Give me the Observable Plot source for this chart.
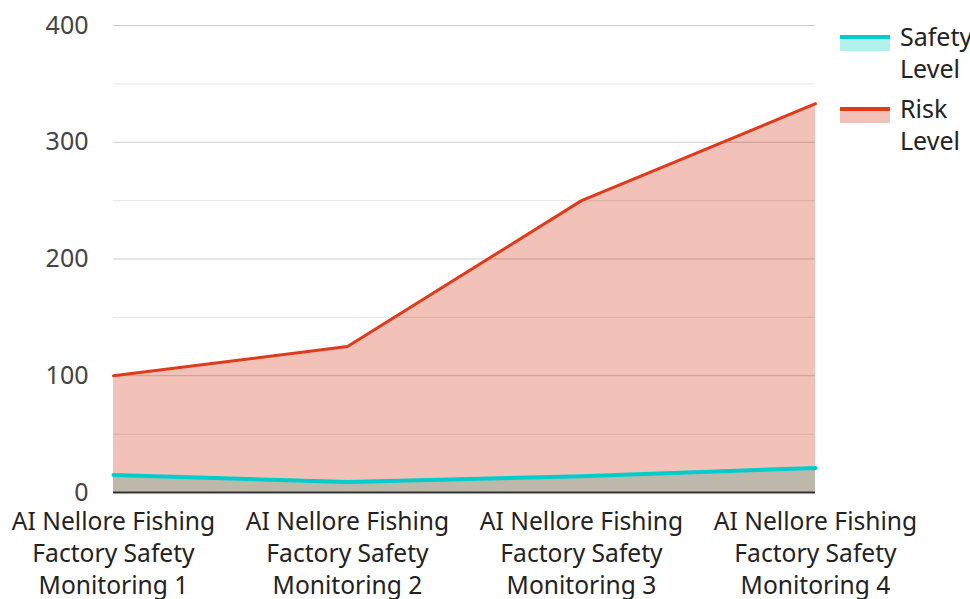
<!DOCTYPE html>
<html><head><meta charset="utf-8">
<script src="https://cdn.jsdelivr.net/npm/d3@7"></script>
<script src="https://cdn.jsdelivr.net/npm/@observablehq/plot@0.6"></script>
<style>
body{margin:0;background:#fff;font-family:"Noto Sans",sans-serif;}
#wrap{position:relative;width:970px;height:599px;overflow:hidden}
.legend{position:absolute;left:840px;top:20px;font-size:25px;color:#222;line-height:32px}
.item{display:flex;align-items:flex-start;margin-bottom:8px}
.sw{width:50px;height:12px;margin-right:10px;margin-top:15px;border-top:4px solid}
</style></head>
<body><div id="wrap"></div>
<script>
const categories = [
  "AI Nellore Fishing Factory Safety Monitoring 1",
  "AI Nellore Fishing Factory Safety Monitoring 2",
  "AI Nellore Fishing Factory Safety Monitoring 3",
  "AI Nellore Fishing Factory Safety Monitoring 4"
];
const safetyLevel = [15, 9, 14, 21];
const riskLevel = [100, 125, 250, 333];
const yTicks = [0, 100, 200, 300, 400];
const yMinorTicks = [50, 150, 250, 350];
const seriesNames = ["Safety Level", "Risk Level"];

const data = categories.map((c, i) => ({cat: c, safety: safetyLevel[i], risk: riskLevel[i]}));

const wrapLabel = d => {
  const m = d.match(/^(AI Nellore Fishing) (Factory Safety) (Monitoring \d+)$/);
  return m ? m.slice(1).join("\n") : d;
};

const chart = Plot.plot({
  width: 970,
  height: 599,
  marginLeft: 113,
  marginRight: 155,
  marginTop: 25,
  marginBottom: 107,
  style: {fontFamily: '"Noto Sans", sans-serif', background: "#fff"},
  x: {type: "point", domain: categories, padding: 0},
  y: {domain: [0, 400]},
  marks: [
    Plot.areaY(data, {x: "cat", y: "safety", fill: "#b2f0eb"}),
    Plot.areaY(data, {x: "cat", y: "risk", fill: "rgb(215,67,37)", fillOpacity: 0.325}),
    Plot.ruleY(yMinorTicks, {stroke: "#000", strokeOpacity: 0.1}),
    Plot.ruleY(yTicks.filter(d => d > 0), {stroke: "#000", strokeOpacity: 0.2}),
    Plot.lineY(data, {x: "cat", y: "safety", stroke: "#00cccc", strokeWidth: 4}),
    Plot.lineY(data, {x: "cat", y: "risk", stroke: "#e03a1a", strokeWidth: 3}),
    Plot.ruleY([0], {stroke: "#333", strokeWidth: 2}),
    Plot.axisY(yTicks, {tickSize: 0, tickPadding: 25, fontSize: 25, fill: "#444", label: null}),
    Plot.axisX({tickSize: 0, tickPadding: 15, fontSize: 24.6, fill: "#222", label: null,
      tickFormat: wrapLabel, lineHeight: 1.3, lineAnchor: "top"})
  ]
});
const wrap = document.getElementById("wrap");
wrap.appendChild(chart);

const legend = document.createElement("div");
legend.className = "legend";
const lcolors = [["#00cccc", "#b2f0eb"], ["#e03a1a", "#f2c2b8"]];
seriesNames.forEach((n, i) => {
  const it = document.createElement("div");
  it.className = "item";
  const sw = document.createElement("div");
  sw.className = "sw";
  sw.style.borderTopColor = lcolors[i][0];
  sw.style.background = lcolors[i][1];
  const t = document.createElement("div");
  t.innerHTML = n.split(" ").join("<br>");
  it.appendChild(sw); it.appendChild(t);
  legend.appendChild(it);
});
wrap.appendChild(legend);
</script></body></html>
